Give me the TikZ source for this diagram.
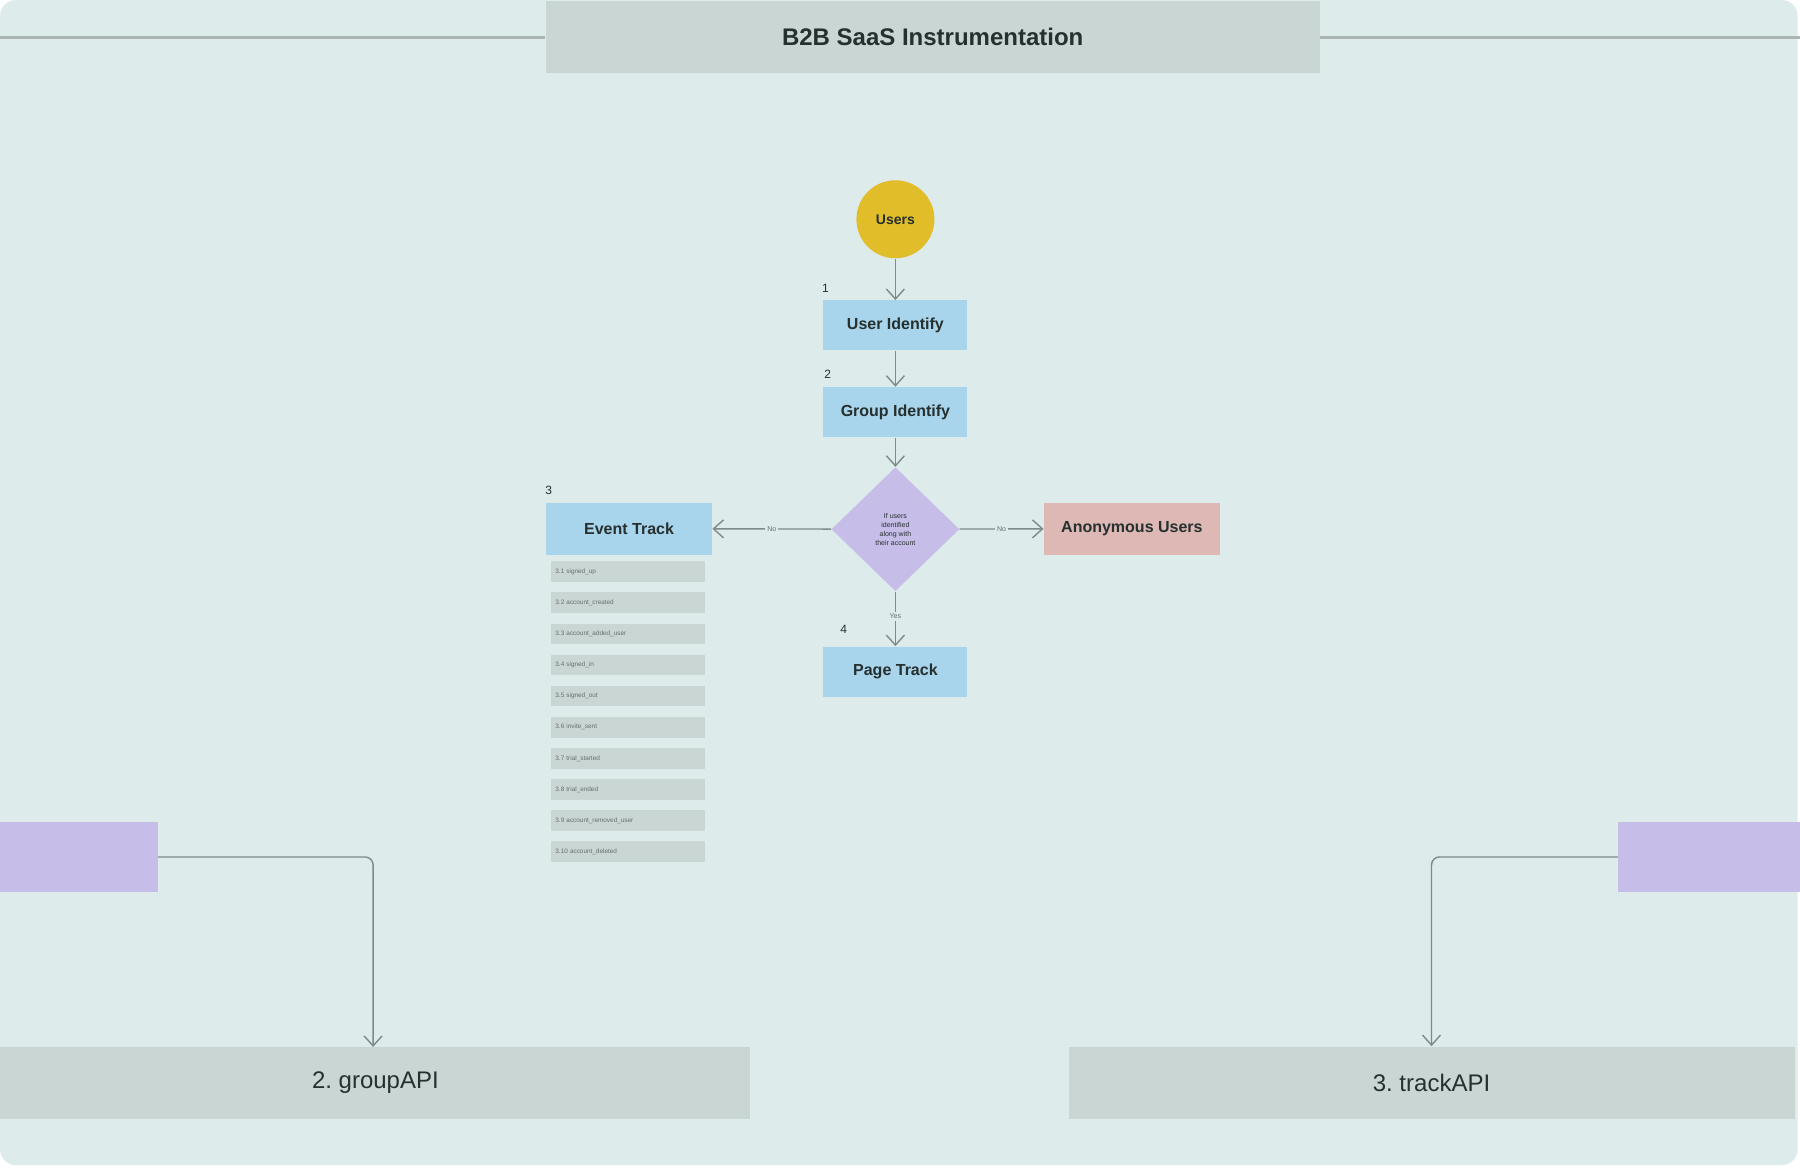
\documentclass[tikz,border=0pt]{standalone}
\usepackage{fontspec}
\setmainfont{Liberation Sans}
\usetikzlibrary{arrows.meta,shapes.geometric}
\definecolor{bg}{HTML}{DDEBEA}
\definecolor{grayb}{HTML}{C9D6D4}
\definecolor{blueb}{HTML}{A8D4EC}
\definecolor{purp}{HTML}{C6BDE8}
\definecolor{pinkb}{HTML}{DDB8B4}
\definecolor{yel}{HTML}{E2BD2A}
\definecolor{ln}{HTML}{7F8A89}
\definecolor{tx}{HTML}{25302F}
\tikzset{
  x=0.574pt,y=-0.574pt,
  box/.style={draw=none,fill=blueb,text=tx,font=\bfseries\fontsize{8}{9}\selectfont,inner sep=0pt},
  item/.style={fill=grayb,text=tx!70,font=\fontsize{3.2}{4}\selectfont,inner sep=0pt,minimum width=77pt,minimum height=10.3pt,anchor=west,text width=73pt,align=left},
  conn/.style={draw=ln,line width=0.7pt,-{Straight Barb[length=5pt,width=9pt]}},
  num/.style={text=tx,font=\fontsize{6}{7}\selectfont,inner sep=0pt},
  lab/.style={text=tx!70,font=\fontsize{3.5}{4}\selectfont,fill=bg,inner sep=1pt}
}
\begin{document}
\begin{tikzpicture}
\useasboundingbox (0,0) rectangle (1568,1018);
\fill[bg,rounded corners=8pt] (0,0) rectangle (1566,1015);
\draw[grayb!85!black,line width=1.5pt] (0,33) -- (475,33) (1150,33) -- (1568,33);
\node[fill=grayb,minimum width=387pt,minimum height=36pt,inner sep=0pt,text=tx,font=\bfseries\fontsize{12}{14}\selectfont] (title) at (812.5,32) {B2B SaaS Instrumentation};
\node[circle,fill=yel,minimum size=39pt,inner sep=0pt,text=tx,font=\bfseries\fontsize{7}{8}\selectfont] (users) at (780,191) {Users};
\node[box,minimum width=72pt,minimum height=25pt] (uid) at (780,283.5) {User Identify};
\node[box,minimum width=72pt,minimum height=25pt] (gid) at (780,359) {Group Identify};
\node[diamond,fill=purp,minimum width=64pt,minimum height=62pt,inner sep=0pt,aspect=1.04,text=tx,align=center,font=\fontsize{3.5}{4.5}\selectfont] (dec) at (780,461) {If users\\identified\\along with\\their account};
\node[box,minimum width=83pt,minimum height=26pt] (ev) at (548,460.5) {Event Track};
\node[box,fill=pinkb,minimum width=88pt,minimum height=26pt] (anon) at (986,460.5) {Anonymous Users};
\node[box,minimum width=72pt,minimum height=25pt] (page) at (780,585) {Page Track};
\node[num] at (719,251) {1};
\node[num] at (721,326) {2};
\node[num] at (478,427) {3};
\node[num] at (735,548) {4};
\draw[conn] (users) -- (uid);
\draw[conn] (uid) -- (gid);
\draw[conn] (gid) -- (dec);
\draw[conn] (dec) -- node[lab]{No} (ev);
\draw[conn] (dec) -- node[lab]{No} (anon);
\draw[conn] (dec) -- node[lab,pos=0.45]{Yes} (page);
\foreach \t [count=\i] in {3.1 signed\_up,3.2 account\_created,3.3 account\_added\_user,3.4 signed\_in,3.5 signed\_out,3.6 invite\_sent,3.7 trial\_started,3.8 trial\_ended,3.9 account\_removed\_user,3.10 account\_deleted}
  \node[item] (it\i) at (480,{498+27.1*(\i-1)}) {\t};
\node[fill=purp,minimum width=79pt,minimum height=35pt,inner sep=0pt] (pl) at (68.5,746.5) {};
\node[fill=purp,minimum width=91pt,minimum height=35pt,inner sep=0pt] (pr) at (1489,746.5) {};
\node[fill=grayb,minimum width=375pt,minimum height=36pt,inner sep=0pt,text=tx,font=\fontsize{12}{14}\selectfont] (gapi) at (327,943) {2.\ groupAPI};
\node[fill=grayb,minimum width=363pt,minimum height=36pt,inner sep=0pt,text=tx,font=\fontsize{12}{14}\selectfont] (tapi) at (1247,943) {3.\ trackAPI};
\draw[conn,rounded corners=4pt] (pl.east) -- (325,746.5) -- (325,912);
\draw[conn,rounded corners=4pt] (pr.west) -- (1247,746.5) -- (tapi.north);
\end{tikzpicture}
\end{document}
